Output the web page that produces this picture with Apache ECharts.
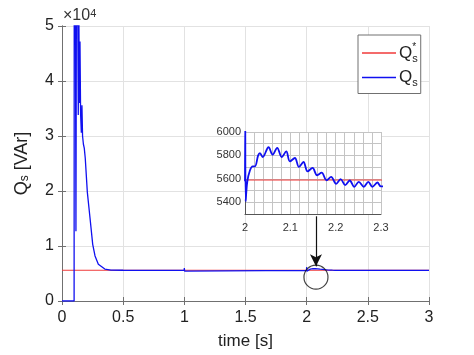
<!DOCTYPE html>
<html>
<head>
<meta charset="utf-8">
<script src="https://cdn.jsdelivr.net/npm/echarts@6/dist/echarts.min.js"></script>
<style>html,body{margin:0;padding:0;background:#fff}#c{width:474px;height:355px}</style>
</head>
<body>
<div id="c"></div>
<script>
// ---- data ----
const xTicks = [0, 0.5, 1, 1.5, 2, 2.5, 3];
const yTicks = [0, 1, 2, 3, 4, 5]; // x 10^4
const refT = [0, 3];
const refQ = [5590, 5590];
// start-up transient (time s, VAr)
const transT = [0, 0.099, 0.100, 0.106, 0.110, 0.114, 0.118, 0.124, 0.128, 0.133, 0.138, 0.142, 0.147, 0.152, 0.158, 0.163, 0.168, 0.175, 0.182, 0.186, 0.190, 0.207, 0.229, 0.251, 0.270, 0.297, 0.350, 0.400, 0.500, 0.999, 1.000, 1.002, 1.006, 1.998];
const transQ = [0, 0, 62000, 55000, 52000, 12700, 58000, 50000, 56000, 33800, 52000, 36000, 47200, 34000, 30600, 35600, 30000, 28500, 27800, 27500, 26000, 19800, 15100, 10300, 8200, 6700, 5800, 5620, 5590, 5580, 6000, 5420, 5585, 5580];
// load step around t = 2 s (shown in the inset)
const stepT = [2.000, 2.0005, 2.0015, 2.005, 2.011, 2.017, 2.022, 2.029, 2.033, 2.039, 2.052, 2.061, 2.071, 2.081, 2.091, 2.099, 2.110, 2.119, 2.129, 2.138, 2.149, 2.159, 2.169, 2.180, 2.190, 2.201, 2.211, 2.221, 2.231, 2.241, 2.251, 2.262, 2.272, 2.281, 2.292, 2.300];
const stepQ = [5580, 6150, 5409, 5575, 5673, 5707, 5707, 5800, 5820, 5786, 5870, 5806, 5865, 5786, 5834, 5749, 5778, 5702, 5744, 5664, 5693, 5631, 5653, 5588, 5617, 5558, 5597, 5546, 5586, 5532, 5575, 5532, 5575, 5532, 5569, 5535];
const tailT = [2.4, 2.6, 2.8, 3.0];
const tailQ = [5560, 5555, 5558, 5556];
const insetXTicks = [2, 2.1, 2.2, 2.3];
const insetYTicks = [5400, 5600, 5800, 6000];
// annotation: circle on main plot and arrow from inset
const circlePt = [2.076, 4340];
const arrowFrom = [2.076, 15400];
const arrowTo = [2.076, 6300];

const blueT = transT.concat(stepT, tailT);
const blueQ = transQ.concat(stepQ, tailQ);
const pairs = (a, b) => a.map((v, i) => [v, b[i]]);

const FONT = 'Liberation Sans, Arial, sans-serif';
const AX = '#707070';
const chart = echarts.init(document.getElementById('c'));
const mainAxisCommon = {
  type: 'value', axisLine: {show: true, lineStyle: {color: AX, width: 1}},
  axisTick: {show: true, inside: true, length: 4, lineStyle: {color: AX}},
};
chart.setOption({
  animation: false,
  backgroundColor: '#fff',
  textStyle: {fontFamily: FONT},
  grid: [
    {left: 62, top: 26, right: 45, bottom: 49},
    {left: 245, top: 132, width: 136, height: 82, show: true, backgroundColor: '#fff', borderWidth: 0, z: 3}
  ],
  legend: {
    data: ['Q_s*', 'Q_s'],
    orient: 'vertical', left: 358, top: 35,
    icon: 'rect',
    padding: [7, 3, 5, 4], itemGap: 5, itemWidth: 34, itemHeight: 1.5,
    borderColor: AX, borderWidth: 1, backgroundColor: '#fff',
    textStyle: {fontFamily: FONT, fontSize: 17, color: '#222', padding: [0, 0, 0, -2],
      rich: {
        q: {fontSize: 17, lineHeight: 22, fontFamily: FONT, color: '#222'},
        sub: {fontSize: 11, lineHeight: 11, verticalAlign: 'bottom', fontFamily: FONT, color: '#222'},
        st: {fontSize: 10, lineHeight: 10, verticalAlign: 'top', width: 0, fontFamily: FONT, color: '#222'}
      }},
    formatter: n => n === 'Q_s*' ? '{q|Q}{st|*}{sub|s}' : '{q|Q}{sub|s}'
  },
  graphic: [{
    type: 'text', left: 63, top: 8, z: 10,
    style: {text: '×10{sup|4}', fill: '#333', font: '16px ' + FONT,
      rich: {sup: {fontSize: 11, verticalAlign: 'top', lineHeight: 10, fill: '#333', fontFamily: FONT}}}
  }],
  xAxis: [
    Object.assign({}, mainAxisCommon, {gridIndex: 0, min: 0, max: 3, interval: 0.5, position: 'bottom',
      name: 'time [s]', nameLocation: 'middle', nameGap: 32,
      nameTextStyle: {fontSize: 17, color: '#222', fontFamily: FONT},
      axisLabel: {fontSize: 16, color: '#222', margin: 9, fontFamily: FONT},
      splitLine: {show: true, lineStyle: {color: '#e2e2e2', width: 1}}}),
    Object.assign({}, mainAxisCommon, {gridIndex: 0, min: 0, max: 3, interval: 0.5, position: 'top',
      axisLabel: {show: false}, splitLine: {show: false}}),
    {type: 'value', gridIndex: 1, min: 2, max: 2.3, interval: 0.02, z: 4,
      axisLine: {show: true, lineStyle: {color: '#555', width: 1}}, axisTick: {show: false},
      axisLabel: {fontSize: 11, color: '#333', margin: 8, fontFamily: FONT,
        formatter: v => insetXTicks.some(t => Math.abs(t - v) < 1e-6) ? String(+v.toFixed(1)) : ''},
      splitLine: {show: true, lineStyle: {color: '#c4c4c4', width: 1}}}
  ],
  yAxis: [
    Object.assign({}, mainAxisCommon, {gridIndex: 0, min: 0, max: 50000, interval: 10000, position: 'left',
      name: 'Q{sub|s} [VAr]', nameLocation: 'middle', nameGap: 31, nameRotate: 90,
      nameTextStyle: {fontSize: 18, color: '#222', fontFamily: FONT,
        rich: {sub: {fontSize: 12, verticalAlign: 'bottom', lineHeight: 12, color: '#222', fontFamily: FONT}}},
      axisLabel: {fontSize: 16, color: '#222', margin: 8, fontFamily: FONT,
        formatter: v => yTicks.includes(v / 10000) ? String(v / 10000) : ''},
      splitLine: {show: true, lineStyle: {color: '#e2e2e2', width: 1}}}),
    Object.assign({}, mainAxisCommon, {gridIndex: 0, min: 0, max: 50000, interval: 10000, position: 'right',
      axisLabel: {show: false}, splitLine: {show: false}}),
    {type: 'value', gridIndex: 1, min: 5300, max: 6000, interval: 100, z: 4,
      axisLine: {show: true, lineStyle: {color: '#555', width: 1}}, axisTick: {show: false},
      axisLabel: {fontSize: 11, color: '#333', margin: 4, fontFamily: FONT,
        formatter: v => insetYTicks.includes(v) ? String(v) : ''},
      splitLine: {show: true, lineStyle: {color: '#c4c4c4', width: 1}}}
  ],
  series: [
    {name: 'Q_s*', type: 'line', xAxisIndex: 0, yAxisIndex: 0, data: pairs(refT, refQ),
      symbol: 'none', lineStyle: {color: '#f03a3a', width: 1}, itemStyle: {color: '#f03a3a'}, z: 2},
    {name: 'Q_s', type: 'line', xAxisIndex: 0, yAxisIndex: 0, data: pairs(blueT, blueQ),
      symbol: 'none', clip: true, lineStyle: {color: '#1010f0', width: 1.3}, itemStyle: {color: '#1010f0'}, z: 3},
    {name: 'Q_s*', type: 'line', xAxisIndex: 2, yAxisIndex: 2, data: pairs(refT, refQ),
      symbol: 'none', clip: true, lineStyle: {color: '#f03a3a', width: 1}, itemStyle: {color: '#f03a3a'}, z: 5},
    {name: 'Q_s', type: 'line', xAxisIndex: 2, yAxisIndex: 2, data: pairs(stepT, stepQ).concat(pairs(tailT, tailQ)),
      symbol: 'none', clip: true, smooth: 0.35, lineStyle: {color: '#1010f0', width: 1.8}, itemStyle: {color: '#1010f0'}, z: 6},
    {name: 'annot', type: 'scatter', xAxisIndex: 0, yAxisIndex: 0, data: [circlePt],
      symbol: 'circle', symbolSize: 24, silent: true, z: 7,
      itemStyle: {color: 'rgba(0,0,0,0)', borderColor: '#111', borderWidth: 1.2},
      markLine: {silent: true, symbol: ['none', 'arrow'], symbolSize: [9, 12], label: {show: false},
        lineStyle: {color: '#111', width: 1.2, type: 'solid'},
        data: [[{coord: arrowFrom}, {coord: arrowTo}]]}}
  ]
});
</script>
</body>
</html>
